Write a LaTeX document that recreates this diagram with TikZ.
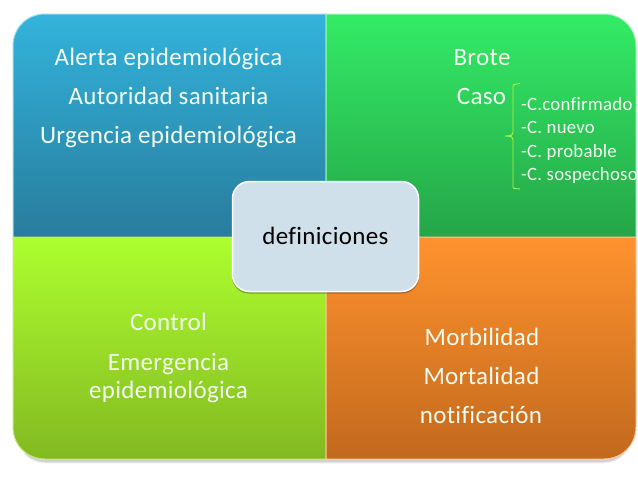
\documentclass[tikz,border=0pt]{standalone}
\usepackage{fontspec}
\setmainfont{Carlito}[Ligatures=NoCommon,LetterSpace=1.3]
\definecolor{blueT}{HTML}{33B3DC}\definecolor{blueB}{HTML}{287C9C}
\definecolor{greenT}{HTML}{33EC66}\definecolor{greenB}{HTML}{25A548}
\definecolor{limeT}{HTML}{ADFF2F}\definecolor{limeB}{HTML}{83B921}
\definecolor{orangeT}{HTML}{FF922E}\definecolor{orangeB}{HTML}{C2691D}
\definecolor{centerF}{HTML}{CFE0EA}
\definecolor{textW}{HTML}{F2FBEF}
\definecolor{braceC}{HTML}{B5F23A}
\tikzset{
  x=1pt,y=-1pt,
  quad/.style={line width=1pt},
  big/.style={anchor=base,text=textW,font=\fontsize{25}{28}\selectfont,inner sep=0pt},
  small/.style={anchor=base west,text=textW,font=\fontsize{18.8}{21}\selectfont,inner sep=0pt},
  brace/.style={draw=braceC,line width=0.9pt,line join=round},
}
\begin{document}
\begin{tikzpicture}
\useasboundingbox (0,0) rectangle (638,479);
\fill[white] (0,0) rectangle (638,479);
% soft shadow below the panel
\foreach \w/\o in {5/0.04,3.5/0.06,2/0.09}{
  \draw[black,opacity=\o,line width=\w pt,line cap=round] (26,453) .. controls (31,458) and (38,461) .. (45,461) -- (604,461) .. controls (611,461) and (618,458) .. (623,453);
}
% quadrants
\shade[quad,top color=blueT,bottom color=blueB,draw=blueT!50!white]
  (13,238) -- (13,46) .. controls (13,28) and (27,14) .. (45,14) -- (326,14) -- (326,238) -- cycle;
\shade[quad,top color=greenT,bottom color=greenB,draw=greenT!45!white]
  (326,238) -- (326,14) -- (604,14) .. controls (622,14) and (636,28) .. (636,46) -- (636,238) -- cycle;
\shade[quad,top color=limeT,bottom color=limeB,draw=limeT!50!white!80!olive]
  (13,237) -- (326,237) -- (326,459) -- (45,459) .. controls (27,459) and (13,445) .. (13,427) -- cycle;
\shade[quad,top color=orangeT,bottom color=orangeB,draw=orangeT!50!white]
  (326,237) -- (636,237) -- (636,427) .. controls (636,445) and (622,459) .. (604,459) -- (326,459) -- cycle;
% centre box shadow and box
\fill[black,opacity=0.3,rounded corners=17pt] (232,184) rectangle (419,293.5);
\node[draw=white,line width=1.5pt,fill=centerF,rounded corners=17pt,minimum width=186pt,minimum height=110pt,inner sep=0pt] (centre) at (325.5,236.5) {};
\node[anchor=base,inner sep=0pt,text=black,font=\fontsize{25}{28}\selectfont] (deflabel) at (325.5,244) {definiciones};
% blue
\node[big] (alerta) at (168.5,65) {Alerta epidemiológica};
\node[big] (autoridad) at (168.5,104) {Autoridad sanitaria};
\node[big] (urgencia) at (168.5,143) {Urgencia epidemiológica};
% green
\node[big] (brote) at (482,65) {Brote};
\node[big] (caso) at (481.5,104) {Caso};
\node[small] (c1) at (521,110) {-C.confirmado};
\node[small] (c2) at (521,133.5) {-C. nuevo};
\node[small] (c3) at (521,157) {-C. probable};
\node[small] (c4) at (521,180) {-C. sospechoso};
\draw[brace] (520,83.5) -- (514,84.5) -- (513,86) -- (513,133) .. controls (513,135) and (511,136) .. (505,136) .. controls (511,136) and (513,137) .. (513,139) -- (513,187) -- (514,188.5) -- (520,189);
% lime
\node[big] (control) at (168.5,330) {Control};
\node[big] (emergencia) at (168.5,370) {Emergencia};
\node[big] (epi) at (168.5,398) {epidemiológica};
% orange
\node[big] (morb) at (482,345) {Morbilidad};
\node[big] (mort) at (481.5,384) {Mortalidad};
\node[big] (notif) at (481,423) {notificación};
\end{tikzpicture}
\end{document}
